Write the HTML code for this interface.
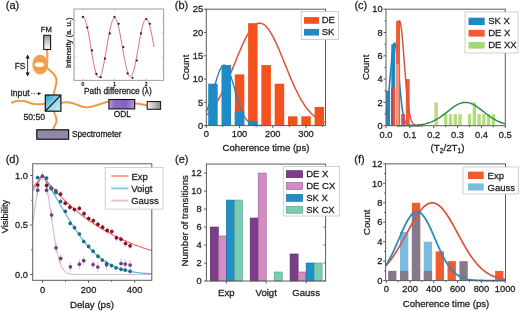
<!DOCTYPE html>
<html><head><meta charset="utf-8"><style>
html,body{margin:0;padding:0;background:#fff;}
svg{display:block;font-family:"Liberation Sans", sans-serif;will-change:transform;}
text{stroke:#1e1e1e;stroke-width:0.28px;}
</style></head><body>
<svg width="520" height="311" viewBox="0 0 520 311">
<rect x="0" y="0" width="520" height="311" fill="#ffffff"/>
<text x="12.5" y="9" font-size="11" text-anchor="middle" fill="#1e1e1e">(a)</text>
<rect x="74" y="9" width="89.7" height="71.3" fill="none" stroke="#858585" stroke-width="0.8"/>
<line x1="83" y1="80.3" x2="83" y2="78.7" stroke="#a0a0a0" stroke-width="0.6"/>
<line x1="83" y1="9" x2="83" y2="10.6" stroke="#a0a0a0" stroke-width="0.6"/>
<line x1="114.6" y1="80.3" x2="114.6" y2="78.7" stroke="#a0a0a0" stroke-width="0.6"/>
<line x1="114.6" y1="9" x2="114.6" y2="10.6" stroke="#a0a0a0" stroke-width="0.6"/>
<line x1="146.2" y1="80.3" x2="146.2" y2="78.7" stroke="#a0a0a0" stroke-width="0.6"/>
<line x1="146.2" y1="9" x2="146.2" y2="10.6" stroke="#a0a0a0" stroke-width="0.6"/>
<line x1="74" y1="20.88" x2="75.5" y2="20.88" stroke="#a0a0a0" stroke-width="0.6"/>
<line x1="163.7" y1="20.88" x2="162.2" y2="20.88" stroke="#a0a0a0" stroke-width="0.6"/>
<line x1="74" y1="32.77" x2="75.5" y2="32.77" stroke="#a0a0a0" stroke-width="0.6"/>
<line x1="163.7" y1="32.77" x2="162.2" y2="32.77" stroke="#a0a0a0" stroke-width="0.6"/>
<line x1="74" y1="44.65" x2="75.5" y2="44.65" stroke="#a0a0a0" stroke-width="0.6"/>
<line x1="163.7" y1="44.65" x2="162.2" y2="44.65" stroke="#a0a0a0" stroke-width="0.6"/>
<line x1="74" y1="56.53" x2="75.5" y2="56.53" stroke="#a0a0a0" stroke-width="0.6"/>
<line x1="163.7" y1="56.53" x2="162.2" y2="56.53" stroke="#a0a0a0" stroke-width="0.6"/>
<line x1="74" y1="68.42" x2="75.5" y2="68.42" stroke="#a0a0a0" stroke-width="0.6"/>
<line x1="163.7" y1="68.42" x2="162.2" y2="68.42" stroke="#a0a0a0" stroke-width="0.6"/>
<text x="83" y="85.6" font-size="5" text-anchor="middle" fill="#1e1e1e">0</text>
<text x="114.6" y="85.6" font-size="5" text-anchor="middle" fill="#1e1e1e">1</text>
<text x="146.2" y="85.6" font-size="5" text-anchor="middle" fill="#1e1e1e">2</text>
<text x="117.9" y="93.9" font-size="8.3" text-anchor="middle" fill="#1e1e1e">Path difference (&#955;)</text>
<text x="70.9" y="42.8" font-size="7.65" text-anchor="middle" fill="#1e1e1e" transform="rotate(-90 70.9 42.8)">Intensity (a. u.)</text>
<path d="M81.5 18.3 L81.8 17.82 L82.1 17.45 L82.41 17.19 L82.71 17.04 L83.01 17 L83.31 17.07 L83.61 17.25 L83.92 17.53 L84.22 17.93 L84.52 18.43 L84.82 19.04 L85.12 19.74 L85.43 20.55 L85.73 21.46 L86.03 22.45 L86.33 23.54 L86.64 24.71 L86.94 25.97 L87.24 27.3 L87.54 28.7 L87.84 30.17 L88.15 31.7 L88.45 33.29 L88.75 34.93 L89.05 36.61 L89.35 38.33 L89.66 40.09 L89.96 41.86 L90.26 43.66 L90.56 45.47 L90.86 47.29 L91.17 49.1 L91.47 50.91 L91.77 52.71 L92.07 54.48 L92.38 56.23 L92.68 57.95 L92.98 59.63 L93.28 61.26 L93.58 62.84 L93.89 64.37 L94.19 65.83 L94.49 67.23 L94.79 68.55 L95.09 69.8 L95.4 70.97 L95.7 72.05 L96 73.04 L96.3 73.94 L96.6 74.75 L96.91 75.45 L97.21 76.06 L97.51 76.56 L97.81 76.95 L98.11 77.24 L98.42 77.42 L98.72 77.5 L99.02 77.46 L99.32 77.32 L99.62 77.07 L99.93 76.72 L100.23 76.25 L100.53 75.69 L100.83 75.02 L101.14 74.26 L101.44 73.4 L101.74 72.44 L102.04 71.4 L102.34 70.27 L102.65 69.06 L102.95 67.77 L103.25 66.41 L103.55 64.99 L103.85 63.5 L104.16 61.95 L104.46 60.36 L104.76 58.71 L105.06 57.03 L105.36 55.32 L105.67 53.58 L105.97 51.81 L106.27 50.04 L106.57 48.25 L106.88 46.47 L107.18 44.68 L107.48 42.91 L107.78 41.16 L108.08 39.43 L108.39 37.73 L108.69 36.07 L108.99 34.45 L109.29 32.88 L109.59 31.36 L109.9 29.9 L110.2 28.51 L110.5 27.18 L110.8 25.93 L111.1 24.76 L111.41 23.67 L111.71 22.67 L112.01 21.75 L112.31 20.93 L112.61 20.21 L112.92 19.59 L113.22 19.06 L113.52 18.64 L113.82 18.33 L114.12 18.12 L114.43 18.01 L114.73 18.01 L115.03 18.12 L115.33 18.34 L115.64 18.66 L115.94 19.08 L116.24 19.6 L116.54 20.23 L116.84 20.95 L117.15 21.77 L117.45 22.68 L117.75 23.68 L118.05 24.77 L118.35 25.93 L118.66 27.17 L118.96 28.49 L119.26 29.87 L119.56 31.32 L119.86 32.82 L120.17 34.38 L120.47 35.98 L120.77 37.62 L121.07 39.3 L121.38 41 L121.68 42.73 L121.98 44.47 L122.28 46.23 L122.58 47.98 L122.89 49.74 L123.19 51.48 L123.49 53.21 L123.79 54.92 L124.09 56.6 L124.4 58.24 L124.7 59.85 L125 61.41 L125.3 62.92 L125.6 64.37 L125.91 65.76 L126.21 67.09 L126.51 68.34 L126.81 69.52 L127.11 70.61 L127.42 71.62 L127.72 72.55 L128.02 73.38 L128.32 74.12 L128.62 74.77 L128.93 75.31 L129.23 75.75 L129.53 76.1 L129.83 76.33 L130.14 76.47 L130.44 76.5 L130.74 76.42 L131.04 76.24 L131.34 75.96 L131.65 75.58 L131.95 75.09 L132.25 74.51 L132.55 73.82 L132.85 73.05 L133.16 72.18 L133.46 71.22 L133.76 70.18 L134.06 69.06 L134.36 67.86 L134.67 66.59 L134.97 65.25 L135.27 63.84 L135.57 62.38 L135.88 60.87 L136.18 59.31 L136.48 57.7 L136.78 56.06 L137.08 54.4 L137.39 52.7 L137.69 51 L137.99 49.27 L138.29 47.55 L138.59 45.82 L138.9 44.1 L139.2 42.4 L139.5 40.71 L139.8 39.05 L140.1 37.43 L140.41 35.84 L140.71 34.29 L141.01 32.79 L141.31 31.34 L141.61 29.96 L141.92 28.64 L142.22 27.38 L142.52 26.21 L142.82 25.1 L143.12 24.08 L143.43 23.15 L143.73 22.3 L144.03 21.55 L144.33 20.89 L144.64 20.32 L144.94 19.85 L145.24 19.49 L145.54 19.22 L145.84 19.06 L146.15 19 L146.45 19.04 L146.75 19.19 L147.05 19.43 L147.35 19.78 L147.66 20.23 L147.96 20.78 L148.26 21.42 L148.56 22.15 L148.86 22.98 L149.17 23.89 L149.47 24.89 L149.77 25.97 L150.07 27.13 L150.38 28.36 L150.68 29.66 L150.98 31.02 L151.28 32.44 L151.58 33.91 L151.89 35.43 L152.19 36.99 L152.49 38.59 L152.79 40.22 L153.09 41.88 L153.4 43.55 L153.7 45.24 L154 46.94" fill="none" stroke="#d65a68" stroke-width="0.9" stroke-linejoin="round"/>
<circle cx="83" cy="17" r="1.15" fill="#3a2a30"/>
<circle cx="87.3" cy="27.6" r="1.15" fill="#3a2a30"/>
<circle cx="92" cy="50.5" r="1.15" fill="#3a2a30"/>
<circle cx="96.4" cy="74" r="1.15" fill="#3a2a30"/>
<circle cx="100.7" cy="77.2" r="1.15" fill="#3a2a30"/>
<circle cx="104.9" cy="58.7" r="1.15" fill="#3a2a30"/>
<circle cx="109.8" cy="33.5" r="1.15" fill="#3a2a30"/>
<circle cx="114.5" cy="17" r="1.15" fill="#3a2a30"/>
<circle cx="118.7" cy="23.8" r="1.15" fill="#3a2a30"/>
<circle cx="123.4" cy="47.1" r="1.15" fill="#3a2a30"/>
<circle cx="127.6" cy="73.5" r="1.15" fill="#3a2a30"/>
<circle cx="132.5" cy="77.8" r="1.15" fill="#3a2a30"/>
<circle cx="136.8" cy="60.6" r="1.15" fill="#3a2a30"/>
<circle cx="141" cy="33.5" r="1.15" fill="#3a2a30"/>
<circle cx="146.3" cy="19.1" r="1.15" fill="#3a2a30"/>
<circle cx="149.9" cy="23.8" r="1.15" fill="#3a2a30"/>
<path d="M47.2 50 C47.4 56 47.6 60 47.2 63" fill="none" stroke="#f29a45" stroke-width="2" stroke-linecap="round"/>
<ellipse cx="40.2" cy="64.6" rx="7.8" ry="9.8" fill="#f29a45"/>
<ellipse cx="40.0" cy="60.2" rx="7.0" ry="4.6" fill="none" stroke="#f7b77a" stroke-width="0.5"/>
<ellipse cx="40.0" cy="62.5" rx="7.0" ry="4.6" fill="none" stroke="#f7b77a" stroke-width="0.5"/>
<ellipse cx="40.0" cy="66.9" rx="7.0" ry="4.6" fill="none" stroke="#f7b77a" stroke-width="0.5"/>
<ellipse cx="40.0" cy="69.2" rx="7.0" ry="4.6" fill="none" stroke="#f7b77a" stroke-width="0.5"/>
<ellipse cx="39.3" cy="64.7" rx="4.5" ry="2.4" fill="#ffffff"/>
<path d="M46.5 67 C50 72 56 73 56.5 80 C57 86 53.5 90 54 95" fill="none" stroke="#f29a45" stroke-width="2" stroke-linecap="round"/>
<path d="M12 102.5 C18 100 24 100.5 30 103 C36 105.5 40 104.5 45.3 103.5" fill="none" stroke="#f29a45" stroke-width="2" stroke-linecap="round"/>
<path d="M61 103 C68 101 74 103 80 106 C88 110 98 104 108.7 101.5" fill="none" stroke="#f29a45" stroke-width="2" stroke-linecap="round"/>
<path d="M134.8 103.5 C139 103 143 105 147 105.5" fill="none" stroke="#f29a45" stroke-width="2" stroke-linecap="round"/>
<path d="M54 111.4 C55 116 58 119 56 123 C54.5 126 53 127 53.5 129.7" fill="none" stroke="#f29a45" stroke-width="2" stroke-linecap="round"/>
<defs><linearGradient id="gFM" x1="0" y1="0" x2="0" y2="1"><stop offset="0" stop-color="#9a9a9a"/><stop offset="0.5" stop-color="#d0d0d0"/><stop offset="1" stop-color="#ffffff"/></linearGradient><linearGradient id="gBS" x1="0" y1="0" x2="1" y2="1"><stop offset="0" stop-color="#2a9cc4"/><stop offset="0.5" stop-color="#8fd2ea"/><stop offset="1" stop-color="#d8f0f8"/></linearGradient><linearGradient id="gODL" x1="0" y1="0" x2="1" y2="0"><stop offset="0" stop-color="#c0a6dc"/><stop offset="0.2" stop-color="#8e6ac8"/><stop offset="0.65" stop-color="#8460c4"/><stop offset="1" stop-color="#b49ad8"/></linearGradient><linearGradient id="gBOX" x1="0" y1="0" x2="1" y2="0"><stop offset="0" stop-color="#f6f4f6"/><stop offset="1" stop-color="#8a8a90"/></linearGradient></defs>
<rect x="43.7" y="35.3" width="6.9" height="14.2" fill="url(#gFM)" stroke="#1a1a1a" stroke-width="1.1"/>
<text x="46.3" y="32.4" font-size="7.6" text-anchor="middle" fill="#1e1e1e">FM</text>
<text x="20" y="68.6" font-size="8.4" text-anchor="middle" fill="#1e1e1e">FS</text>
<line x1="27.6" y1="57.5" x2="27.6" y2="73.5" stroke="#111" stroke-width="0.8"/>
<path d="M27.6 54.6 L25.6 58.6 L29.6 58.6 Z" fill="#111"/>
<path d="M27.6 76.4 L25.6 72.4 L29.6 72.4 Z" fill="#111"/>
<rect x="45.3" y="95" width="15.6" height="16.2" fill="url(#gBS)" stroke="#111" stroke-width="1.2"/>
<line x1="45.6" y1="110.9" x2="60.6" y2="95.3" stroke="#111" stroke-width="1.2"/>
<text x="20" y="96.3" font-size="8.6" text-anchor="middle" fill="#1e1e1e">Input</text>
<line x1="30.8" y1="93.6" x2="38.8" y2="93.6" stroke="#222" stroke-width="0.7" stroke-dasharray="1.6 1.2"/>
<path d="M41.2 93.6 L38.0 92.0 L38.0 95.2 Z" fill="#222"/>
<text x="34.2" y="119.6" font-size="8.6" text-anchor="middle" fill="#1e1e1e">50:50</text>
<rect x="108.9" y="99.5" width="25.8" height="9.4" fill="url(#gODL)" stroke="#111" stroke-width="1.1"/>
<text x="122.3" y="117.4" font-size="8.4" text-anchor="middle" fill="#1e1e1e">ODL</text>
<rect x="147.2" y="101.6" width="13.4" height="7.7" fill="url(#gBOX)" stroke="#111" stroke-width="1"/>
<rect x="36.8" y="129.8" width="31.8" height="9.4" fill="#9088a6" stroke="#111" stroke-width="1.2"/>
<text x="72" y="136.8" font-size="8.25" text-anchor="start" fill="#1e1e1e">Spectrometer</text>
<text x="181.5" y="9.3" font-size="11" text-anchor="middle" fill="#1e1e1e">(b)</text>
<path d="M206.3 115.14 L207.79 113.74 L209.28 112.2 L210.77 110.51 L212.26 108.68 L213.75 106.68 L215.24 104.53 L216.73 102.22 L218.22 99.74 L219.71 97.1 L221.2 94.31 L222.69 91.36 L224.18 88.27 L225.67 85.04 L227.16 81.69 L228.65 78.23 L230.14 74.68 L231.63 71.06 L233.12 67.39 L234.61 63.7 L236.1 60 L237.59 56.32 L239.08 52.7 L240.57 49.17 L242.06 45.74 L243.55 42.46 L245.04 39.35 L246.53 36.44 L248.02 33.76 L249.51 31.33 L251 29.19 L252.49 27.34 L253.98 25.81 L255.47 24.62 L256.96 23.78 L258.45 23.3 L259.94 23.17 L261.43 23.41 L262.92 24.01 L264.41 24.97 L265.9 26.27 L267.39 27.9 L268.88 29.85 L270.37 32.09 L271.86 34.6 L273.35 37.35 L274.84 40.33 L276.33 43.5 L277.82 46.83 L279.31 50.29 L280.8 53.86 L282.29 57.5 L283.78 61.19 L285.27 64.89 L286.76 68.58 L288.25 72.24 L289.74 75.84 L291.23 79.36 L292.72 82.78 L294.21 86.09 L295.7 89.28 L297.19 92.33 L298.68 95.22 L300.17 97.97 L301.66 100.55 L303.15 102.98 L304.64 105.24 L306.13 107.34 L307.62 109.28 L309.11 111.07 L310.6 112.71 L312.09 114.2 L313.58 115.56 L315.07 116.78 L316.56 117.89 L318.05 118.88 L319.54 119.76 L321.03 120.55 L322.52 121.24 L324.01 121.85 L325.5 122.39" fill="none" stroke="#e0503a" stroke-width="1.5" stroke-linejoin="round"/>
<rect x="234.8" y="74.38" width="9.5" height="51.22" fill="#f4511f" stroke="none" stroke-width="0"/>
<rect x="248.1" y="23.17" width="9.5" height="102.43" fill="#f4511f" stroke="none" stroke-width="0"/>
<rect x="261.4" y="65.07" width="9.5" height="60.53" fill="#f4511f" stroke="none" stroke-width="0"/>
<rect x="274.7" y="83.7" width="9.5" height="41.9" fill="#f4511f" stroke="none" stroke-width="0"/>
<rect x="288" y="116.29" width="9.5" height="9.31" fill="#f4511f" stroke="none" stroke-width="0"/>
<rect x="301.3" y="116.29" width="9.5" height="9.31" fill="#f4511f" stroke="none" stroke-width="0"/>
<rect x="314.6" y="106.98" width="9.5" height="18.62" fill="#f4511f" stroke="none" stroke-width="0"/>
<path d="M206.3 111.84 L207 110.19 L207.69 108.43 L208.39 106.54 L209.09 104.55 L209.78 102.45 L210.48 100.25 L211.17 97.98 L211.87 95.63 L212.57 93.22 L213.26 90.78 L213.96 88.33 L214.66 85.88 L215.35 83.45 L216.05 81.08 L216.74 78.79 L217.44 76.6 L218.14 74.53 L218.83 72.62 L219.53 70.88 L220.23 69.34 L220.92 68.01 L221.62 66.91 L222.31 66.06 L223.01 65.47 L223.71 65.14 L224.4 65.08 L225.1 65.3 L225.8 65.78 L226.49 66.52 L227.19 67.52 L227.88 68.75 L228.58 70.21 L229.28 71.87 L229.97 73.71 L230.67 75.72 L231.37 77.86 L232.06 80.11 L232.76 82.45 L233.45 84.86 L234.15 87.3 L234.85 89.76 L235.54 92.21 L236.24 94.63 L236.94 97 L237.63 99.31 L238.33 101.54 L239.02 103.68 L239.72 105.72 L240.42 107.65 L241.11 109.47 L241.81 111.16 L242.5 112.74 L243.2 114.19 L243.9 115.53 L244.59 116.75 L245.29 117.86 L245.99 118.85 L246.68 119.75 L247.38 120.55 L248.07 121.26 L248.77 121.89 L249.47 122.44 L250.16 122.92 L250.86 123.34 L251.56 123.7 L252.25 124.01 L252.95 124.27 L253.65 124.5 L254.34 124.69 L255.04 124.85 L255.73 124.99 L256.43 125.1 L257.13 125.2 L257.82 125.27 L258.52 125.34 L259.21 125.39 L259.91 125.43 L260.61 125.47 L261.3 125.5 L262 125.52" fill="none" stroke="#3a7fa8" stroke-width="1.4" stroke-linejoin="round"/>
<rect x="208.2" y="83.7" width="9.5" height="41.9" fill="#1f8ac6" stroke="none" stroke-width="0"/>
<rect x="221.5" y="65.07" width="9.5" height="60.53" fill="#1f8ac6" stroke="none" stroke-width="0"/>
<rect x="234.8" y="111.63" width="9.5" height="13.97" fill="#1f8ac6" stroke="none" stroke-width="0"/>
<rect x="248.1" y="120.94" width="9.5" height="4.66" fill="#1f8ac6" stroke="none" stroke-width="0"/>
<rect x="206.3" y="9.2" width="119.2" height="116.4" fill="none" stroke="#5c5c5c" stroke-width="1"/>
<line x1="203.8" y1="125.6" x2="206.3" y2="125.6" stroke="#5c5c5c" stroke-width="1"/>
<text x="203.2" y="128.84" font-size="9.3" text-anchor="end" fill="#1e1e1e">0</text>
<line x1="203.8" y1="102.32" x2="206.3" y2="102.32" stroke="#5c5c5c" stroke-width="1"/>
<text x="203.2" y="105.56" font-size="9.3" text-anchor="end" fill="#1e1e1e">5</text>
<line x1="203.8" y1="79.04" x2="206.3" y2="79.04" stroke="#5c5c5c" stroke-width="1"/>
<text x="203.2" y="82.28" font-size="9.3" text-anchor="end" fill="#1e1e1e">10</text>
<line x1="203.8" y1="55.76" x2="206.3" y2="55.76" stroke="#5c5c5c" stroke-width="1"/>
<text x="203.2" y="59" font-size="9.3" text-anchor="end" fill="#1e1e1e">15</text>
<line x1="203.8" y1="32.48" x2="206.3" y2="32.48" stroke="#5c5c5c" stroke-width="1"/>
<text x="203.2" y="35.72" font-size="9.3" text-anchor="end" fill="#1e1e1e">20</text>
<line x1="203.8" y1="9.2" x2="206.3" y2="9.2" stroke="#5c5c5c" stroke-width="1"/>
<text x="203.2" y="12.44" font-size="9.3" text-anchor="end" fill="#1e1e1e">25</text>
<line x1="206.3" y1="125.6" x2="206.3" y2="128.1" stroke="#5c5c5c" stroke-width="1"/>
<text x="206.3" y="137.4" font-size="9.3" text-anchor="middle" fill="#1e1e1e">0</text>
<line x1="239.55" y1="125.6" x2="239.55" y2="128.1" stroke="#5c5c5c" stroke-width="1"/>
<text x="239.55" y="137.4" font-size="9.3" text-anchor="middle" fill="#1e1e1e">100</text>
<line x1="272.8" y1="125.6" x2="272.8" y2="128.1" stroke="#5c5c5c" stroke-width="1"/>
<text x="272.8" y="137.4" font-size="9.3" text-anchor="middle" fill="#1e1e1e">200</text>
<line x1="306.05" y1="125.6" x2="306.05" y2="128.1" stroke="#5c5c5c" stroke-width="1"/>
<text x="306.05" y="137.4" font-size="9.3" text-anchor="middle" fill="#1e1e1e">300</text>
<line x1="222.93" y1="125.6" x2="222.93" y2="127.1" stroke="#5c5c5c" stroke-width="1"/>
<line x1="256.18" y1="125.6" x2="256.18" y2="127.1" stroke="#5c5c5c" stroke-width="1"/>
<line x1="289.43" y1="125.6" x2="289.43" y2="127.1" stroke="#5c5c5c" stroke-width="1"/>
<line x1="322.68" y1="125.6" x2="322.68" y2="127.1" stroke="#5c5c5c" stroke-width="1"/>
<text x="266" y="150.7" font-size="9.6" text-anchor="middle" fill="#1e1e1e">Coherence time (ps)</text>
<text x="189.4" y="67.4" font-size="9.5" text-anchor="middle" fill="#1e1e1e" transform="rotate(-90 189.4 67.4)">Count</text>
<rect x="301.2" y="11.6" width="37.2" height="27.8" fill="#ffffff" stroke="#bcbcbc" stroke-width="0.7"/>
<rect x="304" y="17.1" width="15" height="6.7" fill="#f4511f" stroke="none" stroke-width="0"/>
<rect x="304" y="28.9" width="15" height="6.7" fill="#1f8ac6" stroke="none" stroke-width="0"/>
<text x="321.7" y="23" font-size="9.5" text-anchor="start" fill="#1e1e1e">DE</text>
<text x="321.7" y="34.8" font-size="9.5" text-anchor="start" fill="#1e1e1e">SK</text>
<text x="360.8" y="9.3" font-size="11" text-anchor="middle" fill="#1e1e1e">(c)</text>
<rect x="434.51" y="102.4" width="3.3" height="23.3" fill="#b4dc78" stroke="none" stroke-width="0"/>
<rect x="444.05" y="114.05" width="3.3" height="11.65" fill="#b4dc78" stroke="none" stroke-width="0"/>
<rect x="448.82" y="114.05" width="3.3" height="11.65" fill="#b4dc78" stroke="none" stroke-width="0"/>
<rect x="453.59" y="114.05" width="3.3" height="11.65" fill="#b4dc78" stroke="none" stroke-width="0"/>
<rect x="458.37" y="114.05" width="3.3" height="11.65" fill="#b4dc78" stroke="none" stroke-width="0"/>
<rect x="467.91" y="114.05" width="3.3" height="11.65" fill="#b4dc78" stroke="none" stroke-width="0"/>
<rect x="472.68" y="102.4" width="3.3" height="23.3" fill="#b4dc78" stroke="none" stroke-width="0"/>
<rect x="477.45" y="114.05" width="3.3" height="11.65" fill="#b4dc78" stroke="none" stroke-width="0"/>
<rect x="482.23" y="114.05" width="3.3" height="11.65" fill="#b4dc78" stroke="none" stroke-width="0"/>
<rect x="487" y="114.05" width="3.3" height="11.65" fill="#b4dc78" stroke="none" stroke-width="0"/>
<rect x="491.77" y="114.05" width="3.3" height="11.65" fill="#b4dc78" stroke="none" stroke-width="0"/>
<path d="M386 114.51 L386.43 112.13 L386.85 109.4 L387.27 106.32 L387.7 102.87 L388.12 99.08 L388.55 94.96 L388.98 90.54 L389.4 85.89 L389.82 81.05 L390.25 76.11 L390.68 71.17 L391.1 66.31 L391.52 61.65 L391.95 57.29 L392.38 53.35 L392.8 49.92 L393.23 47.11 L393.65 44.98 L394.07 43.6 L394.5 43.01 L394.93 43.22 L395.35 44.23 L395.77 46.02 L396.2 48.52 L396.62 51.67 L397.05 55.38 L397.48 59.55 L397.9 64.08 L398.32 68.86 L398.75 73.78 L399.18 78.74 L399.6 83.63 L400.02 88.38 L400.45 92.92 L400.88 97.18 L401.3 101.13 L401.73 104.74 L402.15 107.99 L402.57 110.89 L403 113.43 L403.43 115.63 L403.85 117.52 L404.27 119.12 L404.7 120.46 L405.12 121.56 L405.55 122.47 L405.98 123.2 L406.4 123.78 L406.82 124.25 L407.25 124.61 L407.68 124.89 L408.1 125.1 L408.52 125.26 L408.95 125.38 L409.38 125.47 L409.8 125.54 L410.23 125.59 L410.65 125.62 L411.07 125.65 L411.5 125.66 L411.93 125.68 L412.35 125.68 L412.77 125.69 L413.2 125.69 L413.62 125.7 L414.05 125.7 L414.48 125.7 L414.9 125.7 L415.32 125.7 L415.75 125.7 L416.18 125.7 L416.6 125.7 L417.02 125.7 L417.45 125.7 L417.88 125.7 L418.3 125.7 L418.73 125.7 L419.15 125.7 L419.57 125.7 L420 125.7" fill="none" stroke="#1f7fb8" stroke-width="1.6" stroke-linejoin="round"/>
<rect x="386.2" y="90.75" width="3.9" height="34.95" fill="#1f88c4" stroke="none" stroke-width="0"/>
<rect x="391.3" y="44.15" width="3.9" height="81.55" fill="#1f88c4" stroke="none" stroke-width="0"/>
<rect x="391.3" y="87.25" width="3.9" height="38.45" fill="#e2583e" stroke="none" stroke-width="0"/>
<rect x="391.3" y="87.25" width="1.6" height="38.45" fill="#a04858" stroke="none" stroke-width="0"/>
<rect x="396.1" y="20.85" width="3.9" height="104.85" fill="#f25a36" stroke="none" stroke-width="0"/>
<rect x="396.1" y="63.96" width="3.9" height="61.74" fill="#f7957c" stroke="none" stroke-width="0"/>
<rect x="399.1" y="63.96" width="1" height="61.74" fill="#e8553a" stroke="none" stroke-width="0"/>
<rect x="401.2" y="114.05" width="3.7" height="11.65" fill="#c8506a" stroke="none" stroke-width="0"/>
<rect x="405.8" y="79.1" width="3.9" height="46.6" fill="#f25a36" stroke="none" stroke-width="0"/>
<path d="M398.5 22.6 L398.77 21.72 L399.04 21.14 L399.31 20.87 L399.57 20.92 L399.84 21.28 L400.11 21.95 L400.38 22.93 L400.65 24.21 L400.92 25.77 L401.19 27.6 L401.46 29.69 L401.73 32.01 L401.99 34.56 L402.26 37.3 L402.53 40.21 L402.8 43.28 L403.07 46.48 L403.34 49.78 L403.61 53.16 L403.88 56.6 L404.14 60.08 L404.41 63.57 L404.68 67.04 L404.95 70.49 L405.22 73.9 L405.49 77.24 L405.76 80.5 L406.02 83.66 L406.29 86.73 L406.56 89.68 L406.83 92.5 L407.1 95.2 L407.37 97.76 L407.64 100.18 L407.91 102.46 L408.18 104.61 L408.44 106.61 L408.71 108.47 L408.98 110.2 L409.25 111.8 L409.52 113.27 L409.79 114.62 L410.06 115.85 L410.32 116.97 L410.59 117.98 L410.86 118.9 L411.13 119.73 L411.4 120.47 L411.67 121.14 L411.94 121.73 L412.21 122.25 L412.48 122.72 L412.74 123.13 L413.01 123.49 L413.28 123.8 L413.55 124.08 L413.82 124.32 L414.09 124.53 L414.36 124.71 L414.62 124.86 L414.89 124.99 L415.16 125.11 L415.43 125.2 L415.7 125.29 L415.97 125.36 L416.24 125.41 L416.51 125.46 L416.77 125.5 L417.04 125.54 L417.31 125.57 L417.58 125.59 L417.85 125.61 L418.12 125.63 L418.39 125.64 L418.66 125.65 L418.93 125.66 L419.19 125.67 L419.46 125.68 L419.73 125.68 L420 125.68" fill="none" stroke="#d9553e" stroke-width="1.5" stroke-linejoin="round"/>
<path d="M398 125.68 L399.34 125.67 L400.68 125.67 L402.02 125.66 L403.37 125.64 L404.71 125.63 L406.05 125.61 L407.39 125.58 L408.73 125.55 L410.07 125.51 L411.41 125.46 L412.75 125.4 L414.1 125.32 L415.44 125.23 L416.78 125.13 L418.12 125 L419.46 124.85 L420.8 124.67 L422.14 124.46 L423.48 124.22 L424.82 123.94 L426.17 123.62 L427.51 123.25 L428.85 122.84 L430.19 122.37 L431.53 121.85 L432.87 121.28 L434.21 120.64 L435.56 119.95 L436.9 119.2 L438.24 118.39 L439.58 117.53 L440.92 116.62 L442.26 115.67 L443.6 114.67 L444.94 113.65 L446.29 112.6 L447.63 111.55 L448.97 110.49 L450.31 109.45 L451.65 108.43 L452.99 107.45 L454.33 106.52 L455.67 105.66 L457.01 104.88 L458.36 104.18 L459.7 103.59 L461.04 103.11 L462.38 102.75 L463.72 102.51 L465.06 102.41 L466.4 102.43 L467.75 102.58 L469.09 102.86 L470.43 103.27 L471.77 103.79 L473.11 104.41 L474.45 105.14 L475.79 105.95 L477.13 106.84 L478.48 107.78 L479.82 108.78 L481.16 109.81 L482.5 110.86 L483.84 111.92 L485.18 112.97 L486.52 114.01 L487.86 115.02 L489.21 116.01 L490.55 116.95 L491.89 117.84 L493.23 118.68 L494.57 119.47 L495.91 120.2 L497.25 120.87 L498.59 121.48 L499.94 122.04 L501.28 122.54 L502.62 122.99 L503.96 123.38 L505.3 123.73" fill="none" stroke="#2e8a4e" stroke-width="1.5" stroke-linejoin="round"/>
<rect x="386" y="9.2" width="119.3" height="116.5" fill="none" stroke="#5c5c5c" stroke-width="1"/>
<line x1="383.5" y1="125.7" x2="386" y2="125.7" stroke="#5c5c5c" stroke-width="1"/>
<text x="382.6" y="128.94" font-size="9.3" text-anchor="end" fill="#1e1e1e">0</text>
<line x1="383.5" y1="102.4" x2="386" y2="102.4" stroke="#5c5c5c" stroke-width="1"/>
<text x="382.6" y="105.64" font-size="9.3" text-anchor="end" fill="#1e1e1e">2</text>
<line x1="383.5" y1="79.1" x2="386" y2="79.1" stroke="#5c5c5c" stroke-width="1"/>
<text x="382.6" y="82.34" font-size="9.3" text-anchor="end" fill="#1e1e1e">4</text>
<line x1="383.5" y1="55.8" x2="386" y2="55.8" stroke="#5c5c5c" stroke-width="1"/>
<text x="382.6" y="59.04" font-size="9.3" text-anchor="end" fill="#1e1e1e">6</text>
<line x1="383.5" y1="32.5" x2="386" y2="32.5" stroke="#5c5c5c" stroke-width="1"/>
<text x="382.6" y="35.74" font-size="9.3" text-anchor="end" fill="#1e1e1e">8</text>
<line x1="383.5" y1="9.2" x2="386" y2="9.2" stroke="#5c5c5c" stroke-width="1"/>
<text x="382.6" y="12.44" font-size="9.3" text-anchor="end" fill="#1e1e1e">10</text>
<line x1="384.5" y1="114.05" x2="386" y2="114.05" stroke="#5c5c5c" stroke-width="1"/>
<line x1="384.5" y1="90.75" x2="386" y2="90.75" stroke="#5c5c5c" stroke-width="1"/>
<line x1="384.5" y1="67.45" x2="386" y2="67.45" stroke="#5c5c5c" stroke-width="1"/>
<line x1="384.5" y1="44.15" x2="386" y2="44.15" stroke="#5c5c5c" stroke-width="1"/>
<line x1="384.5" y1="20.85" x2="386" y2="20.85" stroke="#5c5c5c" stroke-width="1"/>
<line x1="386" y1="125.7" x2="386" y2="128.2" stroke="#5c5c5c" stroke-width="1"/>
<text x="386" y="137.8" font-size="9.3" text-anchor="middle" fill="#1e1e1e">0.0</text>
<line x1="409.86" y1="125.7" x2="409.86" y2="128.2" stroke="#5c5c5c" stroke-width="1"/>
<text x="409.86" y="137.8" font-size="9.3" text-anchor="middle" fill="#1e1e1e">0.1</text>
<line x1="433.72" y1="125.7" x2="433.72" y2="128.2" stroke="#5c5c5c" stroke-width="1"/>
<text x="433.72" y="137.8" font-size="9.3" text-anchor="middle" fill="#1e1e1e">0.2</text>
<line x1="457.58" y1="125.7" x2="457.58" y2="128.2" stroke="#5c5c5c" stroke-width="1"/>
<text x="457.58" y="137.8" font-size="9.3" text-anchor="middle" fill="#1e1e1e">0.3</text>
<line x1="481.44" y1="125.7" x2="481.44" y2="128.2" stroke="#5c5c5c" stroke-width="1"/>
<text x="481.44" y="137.8" font-size="9.3" text-anchor="middle" fill="#1e1e1e">0.4</text>
<line x1="505.3" y1="125.7" x2="505.3" y2="128.2" stroke="#5c5c5c" stroke-width="1"/>
<text x="505.3" y="137.8" font-size="9.3" text-anchor="middle" fill="#1e1e1e">0.5</text>
<line x1="397.93" y1="125.7" x2="397.93" y2="127.2" stroke="#5c5c5c" stroke-width="1"/>
<line x1="421.79" y1="125.7" x2="421.79" y2="127.2" stroke="#5c5c5c" stroke-width="1"/>
<line x1="445.65" y1="125.7" x2="445.65" y2="127.2" stroke="#5c5c5c" stroke-width="1"/>
<line x1="469.51" y1="125.7" x2="469.51" y2="127.2" stroke="#5c5c5c" stroke-width="1"/>
<line x1="493.37" y1="125.7" x2="493.37" y2="127.2" stroke="#5c5c5c" stroke-width="1"/>
<text x="447.5" y="150.5" font-size="9.8" text-anchor="middle" fill="#1e1e1e">(T<tspan font-size="6.4" dy="2">2</tspan><tspan dy="-2">/2T</tspan><tspan font-size="6.4" dy="2">1</tspan><tspan dy="-2">)</tspan></text>
<text x="369.2" y="67.4" font-size="9.5" text-anchor="middle" fill="#1e1e1e" transform="rotate(-90 369.2 67.4)">Count</text>
<rect x="465" y="12" width="53" height="41" fill="#ffffff" stroke="#bcbcbc" stroke-width="0.7"/>
<rect x="468.5" y="17.7" width="16.2" height="7.3" fill="#1f88c4" stroke="none" stroke-width="0"/>
<rect x="468.5" y="29.9" width="16.2" height="6.7" fill="#f25a36" stroke="none" stroke-width="0"/>
<rect x="468.5" y="42" width="16.2" height="6.6" fill="#a4d874" stroke="none" stroke-width="0"/>
<text x="488.2" y="24.1" font-size="9.5" text-anchor="start" fill="#1e1e1e">SK X</text>
<text x="488.2" y="35.9" font-size="9.5" text-anchor="start" fill="#1e1e1e">DE X</text>
<text x="488.2" y="48" font-size="9.5" text-anchor="start" fill="#1e1e1e">DE XX</text>
<text x="12.4" y="163.1" font-size="11" text-anchor="middle" fill="#1e1e1e">(d)</text>
<path d="M32.7 223.4 L33.3 219.26 L33.89 215.07 L34.49 210.88 L35.08 206.72 L35.68 202.65 L36.27 198.7 L36.87 194.92 L37.46 191.36 L38.06 188.07 L38.66 185.08 L39.25 182.44 L39.85 180.19 L40.44 178.35 L41.04 176.95 L41.63 176.01 L42.23 175.55 L42.82 175.57 L43.42 176.07 L44.01 177.05 L44.61 178.49 L45.21 180.37 L45.8 182.66 L46.4 185.33 L46.99 188.34 L47.59 191.66 L48.18 195.24 L48.78 199.03 L49.37 203 L49.97 207.08 L50.57 211.24 L51.16 215.44 L51.76 219.62 L52.35 223.76 L52.95 227.81 L53.54 231.75 L54.14 235.54 L54.73 239.18 L55.33 242.63 L55.92 245.88 L56.52 248.93 L57.12 251.76 L57.71 254.38 L58.31 256.78 L58.9 258.97 L59.5 260.96 L60.09 262.75 L60.69 264.35 L61.28 265.78 L61.88 267.04 L62.48 268.16 L63.07 269.13 L63.67 269.97 L64.26 270.7 L64.86 271.33 L65.45 271.87 L66.05 272.33 L66.64 272.71 L67.24 273.04 L67.83 273.31 L68.43 273.53 L69.03 273.72 L69.62 273.88 L70.22 274 L70.81 274.1 L71.41 274.19 L72 274.25 L72.6 274.31 L73.19 274.35 L73.79 274.38 L74.39 274.41 L74.98 274.43 L75.58 274.45 L76.17 274.46 L76.77 274.47 L77.36 274.48 L77.96 274.48 L78.55 274.49 L79.15 274.49 L79.74 274.49 L80.34 274.49 L80.94 274.5 L81.53 274.5 L82.13 274.5 L82.72 274.5 L83.32 274.5 L83.91 274.5 L84.51 274.5 L85.1 274.5 L85.7 274.5 L86.3 274.5 L86.89 274.5 L87.49 274.5 L88.08 274.5 L88.68 274.5 L89.27 274.5 L89.87 274.5 L90.46 274.5 L91.06 274.5 L91.65 274.5 L92.25 274.5 L92.85 274.5 L93.44 274.5 L94.04 274.5 L94.63 274.5 L95.23 274.5 L95.82 274.5 L96.42 274.5 L97.01 274.5 L97.61 274.5 L98.2 274.5 L98.8 274.5 L99.4 274.5 L99.99 274.5 L100.59 274.5 L101.18 274.5 L101.78 274.5 L102.37 274.5 L102.97 274.5 L103.56 274.5 L104.16 274.5 L104.76 274.5 L105.35 274.5 L105.95 274.5 L106.54 274.5 L107.14 274.5 L107.73 274.5 L108.33 274.5 L108.92 274.5 L109.52 274.5 L110.12 274.5 L110.71 274.5 L111.31 274.5 L111.9 274.5 L112.5 274.5 L113.09 274.5 L113.69 274.5 L114.28 274.5 L114.88 274.5 L115.47 274.5 L116.07 274.5 L116.67 274.5 L117.26 274.5 L117.86 274.5 L118.45 274.5 L119.05 274.5 L119.64 274.5 L120.24 274.5 L120.83 274.5 L121.43 274.5 L122.03 274.5 L122.62 274.5 L123.22 274.5 L123.81 274.5 L124.41 274.5 L125 274.5 L125.6 274.5 L126.19 274.5 L126.79 274.5 L127.38 274.5 L127.98 274.5 L128.58 274.5 L129.17 274.5 L129.77 274.5 L130.36 274.5 L130.96 274.5 L131.55 274.5 L132.15 274.5 L132.74 274.5 L133.34 274.5 L133.94 274.5 L134.53 274.5 L135.13 274.5 L135.72 274.5 L136.32 274.5 L136.91 274.5 L137.51 274.5 L138.1 274.5 L138.7 274.5 L139.29 274.5 L139.89 274.5 L140.49 274.5 L141.08 274.5 L141.68 274.5 L142.27 274.5 L142.87 274.5 L143.46 274.5 L144.06 274.5 L144.65 274.5 L145.25 274.5 L145.85 274.5 L146.44 274.5 L147.04 274.5 L147.63 274.5 L148.23 274.5 L148.82 274.5 L149.42 274.5 L150.01 274.5 L150.61 274.5 L151.2 274.5 L151.8 274.5" fill="none" stroke="#dcbcd4" stroke-width="1.2" stroke-linejoin="round"/>
<path d="M32.7 191.03 L33.3 190.03 L33.89 189.03 L34.49 188.04 L35.08 187.06 L35.68 186.08 L36.27 185.11 L36.87 184.15 L37.46 183.19 L38.06 182.25 L38.66 181.31 L39.25 180.38 L39.85 179.31 L40.44 177.79 L41.04 176.66 L41.63 175.91 L42.23 175.54 L42.82 175.56 L43.42 175.96 L44.01 176.74 L44.61 177.91 L45.21 179.46 L45.8 180.46 L46.4 181.39 L46.99 182.33 L47.59 183.28 L48.18 184.23 L48.78 185.2 L49.37 186.17 L49.97 187.14 L50.57 188.13 L51.16 189.12 L51.76 190.11 L52.35 191.12 L52.95 192.12 L53.54 193.13 L54.14 194.14 L54.73 195.16 L55.33 196.18 L55.92 197.2 L56.52 198.23 L57.12 199.25 L57.71 200.28 L58.31 201.3 L58.9 202.33 L59.5 203.36 L60.09 204.38 L60.69 205.41 L61.28 206.43 L61.88 207.46 L62.48 208.48 L63.07 209.49 L63.67 210.51 L64.26 211.52 L64.86 212.53 L65.45 213.53 L66.05 214.53 L66.64 215.53 L67.24 216.52 L67.83 217.5 L68.43 218.48 L69.03 219.45 L69.62 220.42 L70.22 221.38 L70.81 222.34 L71.41 223.28 L72 224.23 L72.6 225.16 L73.19 226.08 L73.79 227 L74.39 227.91 L74.98 228.81 L75.58 229.7 L76.17 230.59 L76.77 231.46 L77.36 232.33 L77.96 233.19 L78.55 234.04 L79.15 234.87 L79.74 235.7 L80.34 236.52 L80.94 237.33 L81.53 238.13 L82.13 238.92 L82.72 239.7 L83.32 240.47 L83.91 241.22 L84.51 241.97 L85.1 242.71 L85.7 243.44 L86.3 244.15 L86.89 244.86 L87.49 245.55 L88.08 246.24 L88.68 246.91 L89.27 247.58 L89.87 248.23 L90.46 248.87 L91.06 249.5 L91.65 250.12 L92.25 250.73 L92.85 251.33 L93.44 251.92 L94.04 252.5 L94.63 253.07 L95.23 253.62 L95.82 254.17 L96.42 254.71 L97.01 255.23 L97.61 255.75 L98.2 256.25 L98.8 256.75 L99.4 257.23 L99.99 257.71 L100.59 258.18 L101.18 258.63 L101.78 259.08 L102.37 259.51 L102.97 259.94 L103.56 260.36 L104.16 260.77 L104.76 261.17 L105.35 261.56 L105.95 261.94 L106.54 262.31 L107.14 262.68 L107.73 263.03 L108.33 263.38 L108.92 263.72 L109.52 264.05 L110.12 264.37 L110.71 264.69 L111.31 264.99 L111.9 265.29 L112.5 265.58 L113.09 265.87 L113.69 266.14 L114.28 266.41 L114.88 266.67 L115.47 266.93 L116.07 267.18 L116.67 267.42 L117.26 267.65 L117.86 267.88 L118.45 268.1 L119.05 268.32 L119.64 268.53 L120.24 268.73 L120.83 268.93 L121.43 269.12 L122.03 269.31 L122.62 269.49 L123.22 269.67 L123.81 269.84 L124.41 270 L125 270.16 L125.6 270.32 L126.19 270.47 L126.79 270.62 L127.38 270.76 L127.98 270.9 L128.58 271.03 L129.17 271.16 L129.77 271.28 L130.36 271.4 L130.96 271.52 L131.55 271.63 L132.15 271.74 L132.74 271.85 L133.34 271.95 L133.94 272.05 L134.53 272.14 L135.13 272.23 L135.72 272.32 L136.32 272.41 L136.91 272.49 L137.51 272.57 L138.1 272.65 L138.7 272.72 L139.29 272.79 L139.89 272.86 L140.49 272.93 L141.08 272.99 L141.68 273.05 L142.27 273.11 L142.87 273.17 L143.46 273.23 L144.06 273.28 L144.65 273.33 L145.25 273.38 L145.85 273.43 L146.44 273.47 L147.04 273.52 L147.63 273.56 L148.23 273.6 L148.82 273.64 L149.42 273.68 L150.01 273.71 L150.61 273.75 L151.2 273.78 L151.8 273.81" fill="none" stroke="#5cb6e0" stroke-width="1.2" stroke-linejoin="round"/>
<path d="M32.7 187.38 L33.3 186.7 L33.89 186.01 L34.49 185.32 L35.08 184.63 L35.68 183.93 L36.27 183.22 L36.87 182.51 L37.46 181.79 L38.06 181.07 L38.66 180.34 L39.25 179.61 L39.85 178.87 L40.44 178.12 L41.04 177.37 L41.63 176.61 L42.23 175.85 L42.82 175.92 L43.42 176.68 L44.01 177.44 L44.61 178.19 L45.21 178.93 L45.8 179.67 L46.4 180.4 L46.99 181.13 L47.59 181.85 L48.18 182.57 L48.78 183.28 L49.37 183.99 L49.97 184.69 L50.57 185.38 L51.16 186.07 L51.76 186.76 L52.35 187.43 L52.95 188.11 L53.54 188.78 L54.14 189.44 L54.73 190.1 L55.33 190.75 L55.92 191.4 L56.52 192.04 L57.12 192.68 L57.71 193.31 L58.31 193.94 L58.9 194.56 L59.5 195.18 L60.09 195.79 L60.69 196.4 L61.28 197.01 L61.88 197.61 L62.48 198.2 L63.07 198.79 L63.67 199.38 L64.26 199.96 L64.86 200.53 L65.45 201.11 L66.05 201.67 L66.64 202.24 L67.24 202.8 L67.83 203.35 L68.43 203.9 L69.03 204.45 L69.62 204.99 L70.22 205.53 L70.81 206.06 L71.41 206.59 L72 207.12 L72.6 207.64 L73.19 208.15 L73.79 208.67 L74.39 209.18 L74.98 209.68 L75.58 210.18 L76.17 210.68 L76.77 211.17 L77.36 211.66 L77.96 212.15 L78.55 212.63 L79.15 213.11 L79.74 213.59 L80.34 214.06 L80.94 214.52 L81.53 214.99 L82.13 215.45 L82.72 215.91 L83.32 216.36 L83.91 216.81 L84.51 217.25 L85.1 217.7 L85.7 218.14 L86.3 218.57 L86.89 219.01 L87.49 219.43 L88.08 219.86 L88.68 220.28 L89.27 220.7 L89.87 221.12 L90.46 221.53 L91.06 221.94 L91.65 222.35 L92.25 222.75 L92.85 223.15 L93.44 223.55 L94.04 223.94 L94.63 224.33 L95.23 224.72 L95.82 225.11 L96.42 225.49 L97.01 225.87 L97.61 226.24 L98.2 226.62 L98.8 226.99 L99.4 227.36 L99.99 227.72 L100.59 228.08 L101.18 228.44 L101.78 228.8 L102.37 229.15 L102.97 229.5 L103.56 229.85 L104.16 230.19 L104.76 230.54 L105.35 230.88 L105.95 231.21 L106.54 231.55 L107.14 231.88 L107.73 232.21 L108.33 232.54 L108.92 232.86 L109.52 233.19 L110.12 233.5 L110.71 233.82 L111.31 234.14 L111.9 234.45 L112.5 234.76 L113.09 235.07 L113.69 235.37 L114.28 235.67 L114.88 235.97 L115.47 236.27 L116.07 236.57 L116.67 236.86 L117.26 237.15 L117.86 237.44 L118.45 237.73 L119.05 238.01 L119.64 238.29 L120.24 238.57 L120.83 238.85 L121.43 239.13 L122.03 239.4 L122.62 239.67 L123.22 239.94 L123.81 240.21 L124.41 240.48 L125 240.74 L125.6 241 L126.19 241.26 L126.79 241.52 L127.38 241.77 L127.98 242.02 L128.58 242.28 L129.17 242.52 L129.77 242.77 L130.36 243.02 L130.96 243.26 L131.55 243.5 L132.15 243.74 L132.74 243.98 L133.34 244.22 L133.94 244.45 L134.53 244.68 L135.13 244.91 L135.72 245.14 L136.32 245.37 L136.91 245.59 L137.51 245.82 L138.1 246.04 L138.7 246.26 L139.29 246.48 L139.89 246.7 L140.49 246.91 L141.08 247.12 L141.68 247.34 L142.27 247.55 L142.87 247.75 L143.46 247.96 L144.06 248.17 L144.65 248.37 L145.25 248.57 L145.85 248.77 L146.44 248.97 L147.04 249.17 L147.63 249.37 L148.23 249.56 L148.82 249.75 L149.42 249.94 L150.01 250.13 L150.61 250.32 L151.2 250.51 L151.8 250.69" fill="none" stroke="#e06a60" stroke-width="1.1" stroke-linejoin="round"/>
<line x1="37.7" y1="185.2" x2="37.7" y2="195.2" stroke="#74407c" stroke-width="0.5" opacity="0.6"/>
<line x1="42.4" y1="171.2" x2="42.4" y2="181.2" stroke="#74407c" stroke-width="0.5" opacity="0.6"/>
<line x1="46.6" y1="185.2" x2="46.6" y2="195.2" stroke="#74407c" stroke-width="0.5" opacity="0.6"/>
<line x1="51.6" y1="210" x2="51.6" y2="220" stroke="#74407c" stroke-width="0.5" opacity="0.6"/>
<line x1="56" y1="242.8" x2="56" y2="252.8" stroke="#74407c" stroke-width="0.5" opacity="0.6"/>
<line x1="60.7" y1="253.4" x2="60.7" y2="263.4" stroke="#74407c" stroke-width="0.5" opacity="0.6"/>
<line x1="70.4" y1="261.8" x2="70.4" y2="271.8" stroke="#74407c" stroke-width="0.5" opacity="0.6"/>
<line x1="79.4" y1="259.2" x2="79.4" y2="269.2" stroke="#74407c" stroke-width="0.5" opacity="0.6"/>
<line x1="83.7" y1="255.7" x2="83.7" y2="265.7" stroke="#74407c" stroke-width="0.5" opacity="0.6"/>
<line x1="93.1" y1="259.6" x2="93.1" y2="269.6" stroke="#74407c" stroke-width="0.5" opacity="0.6"/>
<line x1="97.8" y1="262" x2="97.8" y2="272" stroke="#74407c" stroke-width="0.5" opacity="0.6"/>
<line x1="106.6" y1="259.8" x2="106.6" y2="269.8" stroke="#74407c" stroke-width="0.5" opacity="0.6"/>
<line x1="121" y1="258.5" x2="121" y2="268.5" stroke="#74407c" stroke-width="0.5" opacity="0.6"/>
<line x1="125.2" y1="259.1" x2="125.2" y2="269.1" stroke="#74407c" stroke-width="0.5" opacity="0.6"/>
<line x1="130.1" y1="260" x2="130.1" y2="270" stroke="#74407c" stroke-width="0.5" opacity="0.6"/>
<circle cx="37.7" cy="190.2" r="1.85" fill="#74407c"/>
<circle cx="42.4" cy="176.2" r="1.85" fill="#74407c"/>
<circle cx="46.6" cy="190.2" r="1.85" fill="#74407c"/>
<circle cx="51.6" cy="215" r="1.85" fill="#74407c"/>
<circle cx="56" cy="247.8" r="1.85" fill="#74407c"/>
<circle cx="60.7" cy="258.4" r="1.85" fill="#74407c"/>
<circle cx="70.4" cy="266.8" r="1.85" fill="#74407c"/>
<circle cx="79.4" cy="264.2" r="1.85" fill="#74407c"/>
<circle cx="83.7" cy="260.7" r="1.85" fill="#74407c"/>
<circle cx="93.1" cy="264.6" r="1.85" fill="#74407c"/>
<circle cx="97.8" cy="267" r="1.85" fill="#74407c"/>
<circle cx="106.6" cy="264.8" r="1.85" fill="#74407c"/>
<circle cx="121" cy="263.5" r="1.85" fill="#74407c"/>
<circle cx="125.2" cy="264.1" r="1.85" fill="#74407c"/>
<circle cx="130.1" cy="265" r="1.85" fill="#74407c"/>
<line x1="37.7" y1="181.8" x2="37.7" y2="188.2" stroke="#8c1029" stroke-width="0.5" opacity="0.6"/>
<line x1="46.6" y1="182.2" x2="46.6" y2="188.6" stroke="#8c1029" stroke-width="0.5" opacity="0.6"/>
<line x1="51.2" y1="185.3" x2="51.2" y2="191.7" stroke="#8c1029" stroke-width="0.5" opacity="0.6"/>
<line x1="55.9" y1="187.8" x2="55.9" y2="194.2" stroke="#8c1029" stroke-width="0.5" opacity="0.6"/>
<line x1="60.6" y1="190.9" x2="60.6" y2="197.3" stroke="#8c1029" stroke-width="0.5" opacity="0.6"/>
<line x1="65.3" y1="200" x2="65.3" y2="206.4" stroke="#8c1029" stroke-width="0.5" opacity="0.6"/>
<line x1="69.9" y1="204" x2="69.9" y2="210.4" stroke="#8c1029" stroke-width="0.5" opacity="0.6"/>
<line x1="74.5" y1="206.3" x2="74.5" y2="212.7" stroke="#8c1029" stroke-width="0.5" opacity="0.6"/>
<line x1="79.3" y1="205.2" x2="79.3" y2="211.6" stroke="#8c1029" stroke-width="0.5" opacity="0.6"/>
<line x1="84" y1="210.5" x2="84" y2="216.9" stroke="#8c1029" stroke-width="0.5" opacity="0.6"/>
<line x1="88.7" y1="215.3" x2="88.7" y2="221.7" stroke="#8c1029" stroke-width="0.5" opacity="0.6"/>
<line x1="93.3" y1="217.4" x2="93.3" y2="223.8" stroke="#8c1029" stroke-width="0.5" opacity="0.6"/>
<line x1="97.9" y1="221.1" x2="97.9" y2="227.5" stroke="#8c1029" stroke-width="0.5" opacity="0.6"/>
<line x1="102.6" y1="224" x2="102.6" y2="230.4" stroke="#8c1029" stroke-width="0.5" opacity="0.6"/>
<line x1="107.2" y1="227.2" x2="107.2" y2="233.6" stroke="#8c1029" stroke-width="0.5" opacity="0.6"/>
<line x1="111.8" y1="228.3" x2="111.8" y2="234.7" stroke="#8c1029" stroke-width="0.5" opacity="0.6"/>
<line x1="116.4" y1="234.6" x2="116.4" y2="241" stroke="#8c1029" stroke-width="0.5" opacity="0.6"/>
<line x1="121" y1="236" x2="121" y2="242.4" stroke="#8c1029" stroke-width="0.5" opacity="0.6"/>
<line x1="125.5" y1="240.3" x2="125.5" y2="246.7" stroke="#8c1029" stroke-width="0.5" opacity="0.6"/>
<line x1="130.1" y1="242.6" x2="130.1" y2="249" stroke="#8c1029" stroke-width="0.5" opacity="0.6"/>
<circle cx="37.7" cy="185" r="1.85" fill="#8c1029"/>
<circle cx="46.6" cy="185.4" r="1.85" fill="#8c1029"/>
<circle cx="51.2" cy="188.5" r="1.85" fill="#8c1029"/>
<circle cx="55.9" cy="191" r="1.85" fill="#8c1029"/>
<circle cx="60.6" cy="194.1" r="1.85" fill="#8c1029"/>
<circle cx="65.3" cy="203.2" r="1.85" fill="#8c1029"/>
<circle cx="69.9" cy="207.2" r="1.85" fill="#8c1029"/>
<circle cx="74.5" cy="209.5" r="1.85" fill="#8c1029"/>
<circle cx="79.3" cy="208.4" r="1.85" fill="#8c1029"/>
<circle cx="84" cy="213.7" r="1.85" fill="#8c1029"/>
<circle cx="88.7" cy="218.5" r="1.85" fill="#8c1029"/>
<circle cx="93.3" cy="220.6" r="1.85" fill="#8c1029"/>
<circle cx="97.9" cy="224.3" r="1.85" fill="#8c1029"/>
<circle cx="102.6" cy="227.2" r="1.85" fill="#8c1029"/>
<circle cx="107.2" cy="230.4" r="1.85" fill="#8c1029"/>
<circle cx="111.8" cy="231.5" r="1.85" fill="#8c1029"/>
<circle cx="116.4" cy="237.8" r="1.85" fill="#8c1029"/>
<circle cx="121" cy="239.2" r="1.85" fill="#8c1029"/>
<circle cx="125.5" cy="243.5" r="1.85" fill="#8c1029"/>
<circle cx="130.1" cy="245.8" r="1.85" fill="#8c1029"/>
<line x1="37.7" y1="175.3" x2="37.7" y2="179.7" stroke="#1b6f86" stroke-width="0.5" opacity="0.6"/>
<line x1="46.6" y1="175.9" x2="46.6" y2="180.3" stroke="#1b6f86" stroke-width="0.5" opacity="0.6"/>
<line x1="51.4" y1="185.9" x2="51.4" y2="190.3" stroke="#1b6f86" stroke-width="0.5" opacity="0.6"/>
<line x1="56" y1="190.2" x2="56" y2="194.6" stroke="#1b6f86" stroke-width="0.5" opacity="0.6"/>
<line x1="60.6" y1="199.2" x2="60.6" y2="203.6" stroke="#1b6f86" stroke-width="0.5" opacity="0.6"/>
<line x1="65.3" y1="209.1" x2="65.3" y2="213.5" stroke="#1b6f86" stroke-width="0.5" opacity="0.6"/>
<line x1="70.2" y1="221.2" x2="70.2" y2="225.6" stroke="#1b6f86" stroke-width="0.5" opacity="0.6"/>
<line x1="74.5" y1="225.5" x2="74.5" y2="229.9" stroke="#1b6f86" stroke-width="0.5" opacity="0.6"/>
<line x1="79.4" y1="231.8" x2="79.4" y2="236.2" stroke="#1b6f86" stroke-width="0.5" opacity="0.6"/>
<line x1="83.7" y1="239.3" x2="83.7" y2="243.7" stroke="#1b6f86" stroke-width="0.5" opacity="0.6"/>
<line x1="88.6" y1="244.2" x2="88.6" y2="248.6" stroke="#1b6f86" stroke-width="0.5" opacity="0.6"/>
<line x1="93.1" y1="249" x2="93.1" y2="253.4" stroke="#1b6f86" stroke-width="0.5" opacity="0.6"/>
<line x1="98" y1="254.2" x2="98" y2="258.6" stroke="#1b6f86" stroke-width="0.5" opacity="0.6"/>
<line x1="102.3" y1="257.9" x2="102.3" y2="262.3" stroke="#1b6f86" stroke-width="0.5" opacity="0.6"/>
<line x1="106.6" y1="261.3" x2="106.6" y2="265.7" stroke="#1b6f86" stroke-width="0.5" opacity="0.6"/>
<line x1="111.5" y1="263.4" x2="111.5" y2="267.8" stroke="#1b6f86" stroke-width="0.5" opacity="0.6"/>
<line x1="116" y1="265.6" x2="116" y2="270" stroke="#1b6f86" stroke-width="0.5" opacity="0.6"/>
<line x1="121" y1="267.1" x2="121" y2="271.5" stroke="#1b6f86" stroke-width="0.5" opacity="0.6"/>
<line x1="125.2" y1="267.9" x2="125.2" y2="272.3" stroke="#1b6f86" stroke-width="0.5" opacity="0.6"/>
<line x1="130.1" y1="269.1" x2="130.1" y2="273.5" stroke="#1b6f86" stroke-width="0.5" opacity="0.6"/>
<circle cx="37.7" cy="177.5" r="1.85" fill="#1b6f86"/>
<circle cx="46.6" cy="178.1" r="1.85" fill="#1b6f86"/>
<circle cx="51.4" cy="188.1" r="1.85" fill="#1b6f86"/>
<circle cx="56" cy="192.4" r="1.85" fill="#1b6f86"/>
<circle cx="60.6" cy="201.4" r="1.85" fill="#1b6f86"/>
<circle cx="65.3" cy="211.3" r="1.85" fill="#1b6f86"/>
<circle cx="70.2" cy="223.4" r="1.85" fill="#1b6f86"/>
<circle cx="74.5" cy="227.7" r="1.85" fill="#1b6f86"/>
<circle cx="79.4" cy="234" r="1.85" fill="#1b6f86"/>
<circle cx="83.7" cy="241.5" r="1.85" fill="#1b6f86"/>
<circle cx="88.6" cy="246.4" r="1.85" fill="#1b6f86"/>
<circle cx="93.1" cy="251.2" r="1.85" fill="#1b6f86"/>
<circle cx="98" cy="256.4" r="1.85" fill="#1b6f86"/>
<circle cx="102.3" cy="260.1" r="1.85" fill="#1b6f86"/>
<circle cx="106.6" cy="263.5" r="1.85" fill="#1b6f86"/>
<circle cx="111.5" cy="265.6" r="1.85" fill="#1b6f86"/>
<circle cx="116" cy="267.8" r="1.85" fill="#1b6f86"/>
<circle cx="121" cy="269.3" r="1.85" fill="#1b6f86"/>
<circle cx="125.2" cy="270.1" r="1.85" fill="#1b6f86"/>
<circle cx="130.1" cy="271.3" r="1.85" fill="#1b6f86"/>
<rect x="32.7" y="163.8" width="119.1" height="116.5" fill="none" stroke="#5c5c5c" stroke-width="1"/>
<line x1="30.2" y1="274.5" x2="32.7" y2="274.5" stroke="#5c5c5c" stroke-width="1"/>
<text x="28" y="277.74" font-size="9.3" text-anchor="end" fill="#1e1e1e">0.0</text>
<line x1="30.2" y1="225" x2="32.7" y2="225" stroke="#5c5c5c" stroke-width="1"/>
<text x="28" y="228.24" font-size="9.3" text-anchor="end" fill="#1e1e1e">0.5</text>
<line x1="30.2" y1="175.5" x2="32.7" y2="175.5" stroke="#5c5c5c" stroke-width="1"/>
<text x="28" y="178.74" font-size="9.3" text-anchor="end" fill="#1e1e1e">1.0</text>
<line x1="31.2" y1="249.75" x2="32.7" y2="249.75" stroke="#5c5c5c" stroke-width="1"/>
<line x1="31.2" y1="200.25" x2="32.7" y2="200.25" stroke="#5c5c5c" stroke-width="1"/>
<line x1="42.5" y1="280.3" x2="42.5" y2="282.8" stroke="#5c5c5c" stroke-width="1"/>
<text x="42.5" y="292.8" font-size="9.3" text-anchor="middle" fill="#1e1e1e">0</text>
<line x1="88.56" y1="280.3" x2="88.56" y2="282.8" stroke="#5c5c5c" stroke-width="1"/>
<text x="88.56" y="292.8" font-size="9.3" text-anchor="middle" fill="#1e1e1e">200</text>
<line x1="134.62" y1="280.3" x2="134.62" y2="282.8" stroke="#5c5c5c" stroke-width="1"/>
<text x="134.62" y="292.8" font-size="9.3" text-anchor="middle" fill="#1e1e1e">400</text>
<line x1="65.53" y1="280.3" x2="65.53" y2="281.8" stroke="#5c5c5c" stroke-width="1"/>
<line x1="111.59" y1="280.3" x2="111.59" y2="281.8" stroke="#5c5c5c" stroke-width="1"/>
<text x="92" y="308.4" font-size="9.7" text-anchor="middle" fill="#1e1e1e">Delay (ps)</text>
<text x="8.4" y="216.5" font-size="9.3" text-anchor="middle" fill="#1e1e1e" transform="rotate(-90 8.4 216.5)">Visibility</text>
<rect x="105.2" y="167.5" width="57.8" height="41.6" fill="#ffffff" stroke="#bcbcbc" stroke-width="0.7"/>
<line x1="111.2" y1="176" x2="128.5" y2="176" stroke="#f2a088" stroke-width="1.8"/>
<line x1="111.2" y1="188.4" x2="128.5" y2="188.4" stroke="#84c4e8" stroke-width="1.8"/>
<line x1="111.2" y1="200.6" x2="128.5" y2="200.6" stroke="#dcc4d4" stroke-width="1.8"/>
<text x="131.4" y="179.8" font-size="9.5" text-anchor="start" fill="#1e1e1e">Exp</text>
<text x="131.2" y="191.6" font-size="9.5" text-anchor="start" fill="#1e1e1e">Voigt</text>
<text x="131.2" y="204" font-size="9.5" text-anchor="start" fill="#1e1e1e">Gauss</text>
<text x="181.7" y="163.2" font-size="11" text-anchor="middle" fill="#1e1e1e">(e)</text>
<rect x="210.3" y="227.05" width="8" height="53.95" fill="#7d3d8d" stroke="#4a2356" stroke-width="0.6"/>
<rect x="218.3" y="236.04" width="8" height="44.96" fill="#d38cc4" stroke="#8f5a85" stroke-width="0.6"/>
<rect x="226.3" y="200.07" width="8" height="80.93" fill="#1f91c8" stroke="#166a93" stroke-width="0.6"/>
<rect x="234.3" y="200.07" width="8" height="80.93" fill="#79cdb4" stroke="#4f9a85" stroke-width="0.6"/>
<rect x="250.2" y="218.05" width="8" height="62.95" fill="#7d3d8d" stroke="#4a2356" stroke-width="0.6"/>
<rect x="258.2" y="173.09" width="8" height="107.91" fill="#d38cc4" stroke="#8f5a85" stroke-width="0.6"/>
<rect x="274.2" y="272.01" width="8" height="8.99" fill="#79cdb4" stroke="#4f9a85" stroke-width="0.6"/>
<rect x="290.1" y="254.02" width="8" height="26.98" fill="#7d3d8d" stroke="#4a2356" stroke-width="0.6"/>
<rect x="298.1" y="272.01" width="8" height="8.99" fill="#d38cc4" stroke="#8f5a85" stroke-width="0.6"/>
<rect x="306.1" y="263.02" width="8" height="17.98" fill="#1f91c8" stroke="#166a93" stroke-width="0.6"/>
<rect x="314.1" y="263.02" width="8" height="17.98" fill="#79cdb4" stroke="#4f9a85" stroke-width="0.6"/>
<rect x="206.4" y="164.1" width="119.2" height="116.9" fill="none" stroke="#5c5c5c" stroke-width="1"/>
<line x1="203.9" y1="281" x2="206.4" y2="281" stroke="#5c5c5c" stroke-width="1"/>
<line x1="323.6" y1="281" x2="325.6" y2="281" stroke="#5c5c5c" stroke-width="1"/>
<text x="201.6" y="284.24" font-size="9.3" text-anchor="end" fill="#1e1e1e">0</text>
<line x1="203.9" y1="263.02" x2="206.4" y2="263.02" stroke="#5c5c5c" stroke-width="1"/>
<line x1="323.6" y1="263.02" x2="325.6" y2="263.02" stroke="#5c5c5c" stroke-width="1"/>
<text x="201.6" y="266.26" font-size="9.3" text-anchor="end" fill="#1e1e1e">2</text>
<line x1="203.9" y1="245.03" x2="206.4" y2="245.03" stroke="#5c5c5c" stroke-width="1"/>
<line x1="323.6" y1="245.03" x2="325.6" y2="245.03" stroke="#5c5c5c" stroke-width="1"/>
<text x="201.6" y="248.27" font-size="9.3" text-anchor="end" fill="#1e1e1e">4</text>
<line x1="203.9" y1="227.05" x2="206.4" y2="227.05" stroke="#5c5c5c" stroke-width="1"/>
<line x1="323.6" y1="227.05" x2="325.6" y2="227.05" stroke="#5c5c5c" stroke-width="1"/>
<text x="201.6" y="230.29" font-size="9.3" text-anchor="end" fill="#1e1e1e">6</text>
<line x1="203.9" y1="209.06" x2="206.4" y2="209.06" stroke="#5c5c5c" stroke-width="1"/>
<line x1="323.6" y1="209.06" x2="325.6" y2="209.06" stroke="#5c5c5c" stroke-width="1"/>
<text x="201.6" y="212.3" font-size="9.3" text-anchor="end" fill="#1e1e1e">8</text>
<line x1="203.9" y1="191.08" x2="206.4" y2="191.08" stroke="#5c5c5c" stroke-width="1"/>
<line x1="323.6" y1="191.08" x2="325.6" y2="191.08" stroke="#5c5c5c" stroke-width="1"/>
<text x="201.6" y="194.32" font-size="9.3" text-anchor="end" fill="#1e1e1e">10</text>
<line x1="203.9" y1="173.09" x2="206.4" y2="173.09" stroke="#5c5c5c" stroke-width="1"/>
<line x1="323.6" y1="173.09" x2="325.6" y2="173.09" stroke="#5c5c5c" stroke-width="1"/>
<text x="201.6" y="176.33" font-size="9.3" text-anchor="end" fill="#1e1e1e">12</text>
<line x1="226.3" y1="281" x2="226.3" y2="283.5" stroke="#5c5c5c" stroke-width="1"/>
<text x="226.3" y="296.4" font-size="9.6" text-anchor="middle" fill="#1e1e1e">Exp</text>
<line x1="266.2" y1="281" x2="266.2" y2="283.5" stroke="#5c5c5c" stroke-width="1"/>
<text x="266.2" y="296.4" font-size="9.6" text-anchor="middle" fill="#1e1e1e">Voigt</text>
<line x1="306.1" y1="281" x2="306.1" y2="283.5" stroke="#5c5c5c" stroke-width="1"/>
<text x="306.1" y="296.4" font-size="9.6" text-anchor="middle" fill="#1e1e1e">Gauss</text>
<text x="188" y="220.8" font-size="9.6" text-anchor="middle" fill="#1e1e1e" transform="rotate(-90 188 220.8)">Number of transitions</text>
<rect x="283.3" y="166.6" width="56" height="49.4" fill="#ffffff" stroke="#bcbcbc" stroke-width="0.7"/>
<rect x="286.4" y="170.7" width="16.3" height="7" fill="#7d3d8d" stroke="#4a2356" stroke-width="0.6"/>
<text x="306.2" y="177" font-size="9.5" text-anchor="start" fill="#1e1e1e">DE X</text>
<rect x="286.4" y="182.55" width="16.3" height="7" fill="#d38cc4" stroke="#8f5a85" stroke-width="0.6"/>
<text x="306.2" y="188.85" font-size="9.5" text-anchor="start" fill="#1e1e1e">DE CX</text>
<rect x="286.4" y="194.4" width="16.3" height="7" fill="#1f91c8" stroke="#166a93" stroke-width="0.6"/>
<text x="306.2" y="200.7" font-size="9.5" text-anchor="start" fill="#1e1e1e">SK X</text>
<rect x="286.4" y="206.25" width="16.3" height="7" fill="#79cdb4" stroke="#4f9a85" stroke-width="0.6"/>
<text x="306.2" y="212.55" font-size="9.5" text-anchor="start" fill="#1e1e1e">SK CX</text>
<text x="359.5" y="163.4" font-size="11" text-anchor="middle" fill="#1e1e1e">(f)</text>
<rect x="399.99" y="231.98" width="8.3" height="48.62" fill="#7bbbe0" stroke="none" stroke-width="0"/>
<rect x="423.77" y="241.7" width="8.3" height="38.9" fill="#7bbbe0" stroke="none" stroke-width="0"/>
<rect x="411.88" y="202.8" width="8.3" height="77.8" fill="#f25a30" stroke="none" stroke-width="0"/>
<rect x="435.66" y="251.43" width="8.3" height="29.18" fill="#f25a30" stroke="none" stroke-width="0"/>
<rect x="447.55" y="261.15" width="8.3" height="19.45" fill="#f25a30" stroke="none" stroke-width="0"/>
<rect x="495.11" y="270.88" width="8.3" height="9.73" fill="#f25a30" stroke="none" stroke-width="0"/>
<rect x="388.1" y="270.88" width="8.3" height="9.73" fill="#85798a" stroke="none" stroke-width="0"/>
<rect x="399.99" y="270.88" width="8.3" height="9.73" fill="#85798a" stroke="none" stroke-width="0"/>
<rect x="411.88" y="212.53" width="8.3" height="68.07" fill="#85798a" stroke="none" stroke-width="0"/>
<rect x="423.77" y="270.88" width="8.3" height="9.73" fill="#85798a" stroke="none" stroke-width="0"/>
<rect x="459.44" y="261.15" width="8.3" height="19.45" fill="#85798a" stroke="none" stroke-width="0"/>
<path d="M385.6 265.95 L387.1 264.32 L388.6 262.57 L390.1 260.69 L391.6 258.7 L393.09 256.6 L394.59 254.38 L396.09 252.05 L397.59 249.63 L399.09 247.11 L400.59 244.52 L402.09 241.86 L403.59 239.15 L405.08 236.4 L406.58 233.63 L408.08 230.86 L409.58 228.11 L411.08 225.39 L412.58 222.74 L414.08 220.16 L415.58 217.7 L417.07 215.35 L418.57 213.15 L420.07 211.12 L421.57 209.27 L423.07 207.63 L424.57 206.21 L426.07 205.02 L427.56 204.07 L429.06 203.39 L430.56 202.96 L432.06 202.8 L433.56 202.91 L435.06 203.29 L436.56 203.93 L438.06 204.82 L439.56 205.97 L441.05 207.35 L442.55 208.95 L444.05 210.76 L445.55 212.76 L447.05 214.93 L448.55 217.25 L450.05 219.7 L451.55 222.25 L453.04 224.9 L454.54 227.6 L456.04 230.35 L457.54 233.12 L459.04 235.89 L460.54 238.64 L462.04 241.36 L463.54 244.03 L465.03 246.64 L466.53 249.17 L468.03 251.61 L469.53 253.95 L471.03 256.19 L472.53 258.32 L474.03 260.33 L475.52 262.23 L477.02 264 L478.52 265.66 L480.02 267.19 L481.52 268.61 L483.02 269.92 L484.52 271.12 L486.02 272.21 L487.51 273.2 L489.01 274.1 L490.51 274.91 L492.01 275.63 L493.51 276.28 L495.01 276.85 L496.51 277.36 L498.01 277.81 L499.5 278.21 L501 278.56 L502.5 278.86 L504 279.12 L505.5 279.35" fill="none" stroke="#e0503c" stroke-width="1.7" stroke-linejoin="round"/>
<path d="M385.6 265.52 L387.1 263.22 L388.6 260.72 L390.1 258 L391.6 255.1 L393.09 252.02 L394.59 248.78 L396.09 245.43 L397.59 241.99 L399.09 238.51 L400.59 235.04 L402.09 231.61 L403.59 228.3 L405.08 225.14 L406.58 222.2 L408.08 219.53 L409.58 217.18 L411.08 215.19 L412.58 213.61 L414.08 212.46 L415.58 211.77 L417.07 211.55 L418.57 211.82 L420.07 212.55 L421.57 213.74 L423.07 215.37 L424.57 217.39 L426.07 219.78 L427.56 222.48 L429.06 225.44 L430.56 228.62 L432.06 231.95 L433.56 235.38 L435.06 238.86 L436.56 242.34 L438.06 245.77 L439.56 249.11 L441.05 252.33 L442.55 255.39 L444.05 258.28 L445.55 260.97 L447.05 263.46 L448.55 265.74 L450.05 267.8 L451.55 269.65 L453.04 271.3 L454.54 272.76 L456.04 274.03 L457.54 275.13 L459.04 276.08 L460.54 276.9 L462.04 277.58 L463.54 278.16 L465.03 278.64 L466.53 279.03 L468.03 279.36 L469.53 279.62 L471.03 279.84 L472.53 280.01 L474.03 280.14 L475.52 280.25 L477.02 280.33 L478.52 280.4 L480.02 280.45 L481.52 280.49 L483.02 280.52 L484.52 280.54 L486.02 280.56 L487.51 280.57 L489.01 280.58 L490.51 280.58 L492.01 280.59 L493.51 280.59 L495.01 280.59 L496.51 280.6 L498.01 280.6 L499.5 280.6 L501 280.6 L502.5 280.6 L504 280.6 L505.5 280.6" fill="none" stroke="#2a8db2" stroke-width="1.8" stroke-linejoin="round"/>
<rect x="385.6" y="163.9" width="119.9" height="116.7" fill="none" stroke="#5c5c5c" stroke-width="1"/>
<line x1="383.1" y1="280.6" x2="385.6" y2="280.6" stroke="#5c5c5c" stroke-width="1"/>
<text x="382.4" y="283.84" font-size="9.3" text-anchor="end" fill="#1e1e1e">0</text>
<line x1="383.1" y1="261.15" x2="385.6" y2="261.15" stroke="#5c5c5c" stroke-width="1"/>
<text x="382.4" y="264.39" font-size="9.3" text-anchor="end" fill="#1e1e1e">2</text>
<line x1="383.1" y1="241.7" x2="385.6" y2="241.7" stroke="#5c5c5c" stroke-width="1"/>
<text x="382.4" y="244.94" font-size="9.3" text-anchor="end" fill="#1e1e1e">4</text>
<line x1="383.1" y1="222.25" x2="385.6" y2="222.25" stroke="#5c5c5c" stroke-width="1"/>
<text x="382.4" y="225.49" font-size="9.3" text-anchor="end" fill="#1e1e1e">6</text>
<line x1="383.1" y1="202.8" x2="385.6" y2="202.8" stroke="#5c5c5c" stroke-width="1"/>
<text x="382.4" y="206.04" font-size="9.3" text-anchor="end" fill="#1e1e1e">8</text>
<line x1="383.1" y1="183.35" x2="385.6" y2="183.35" stroke="#5c5c5c" stroke-width="1"/>
<text x="382.4" y="186.59" font-size="9.3" text-anchor="end" fill="#1e1e1e">10</text>
<line x1="383.1" y1="163.9" x2="385.6" y2="163.9" stroke="#5c5c5c" stroke-width="1"/>
<text x="382.4" y="167.14" font-size="9.3" text-anchor="end" fill="#1e1e1e">12</text>
<line x1="384.1" y1="270.88" x2="385.6" y2="270.88" stroke="#5c5c5c" stroke-width="1"/>
<line x1="384.1" y1="251.43" x2="385.6" y2="251.43" stroke="#5c5c5c" stroke-width="1"/>
<line x1="384.1" y1="231.98" x2="385.6" y2="231.98" stroke="#5c5c5c" stroke-width="1"/>
<line x1="384.1" y1="212.53" x2="385.6" y2="212.53" stroke="#5c5c5c" stroke-width="1"/>
<line x1="384.1" y1="193.07" x2="385.6" y2="193.07" stroke="#5c5c5c" stroke-width="1"/>
<line x1="384.1" y1="173.62" x2="385.6" y2="173.62" stroke="#5c5c5c" stroke-width="1"/>
<line x1="386.3" y1="280.6" x2="386.3" y2="283.1" stroke="#5c5c5c" stroke-width="1"/>
<text x="386.3" y="291.5" font-size="9.3" text-anchor="middle" fill="#1e1e1e">0</text>
<line x1="410.08" y1="280.6" x2="410.08" y2="283.1" stroke="#5c5c5c" stroke-width="1"/>
<text x="410.08" y="291.5" font-size="9.3" text-anchor="middle" fill="#1e1e1e">200</text>
<line x1="433.86" y1="280.6" x2="433.86" y2="283.1" stroke="#5c5c5c" stroke-width="1"/>
<text x="433.86" y="291.5" font-size="9.3" text-anchor="middle" fill="#1e1e1e">400</text>
<line x1="457.64" y1="280.6" x2="457.64" y2="283.1" stroke="#5c5c5c" stroke-width="1"/>
<text x="457.64" y="291.5" font-size="9.3" text-anchor="middle" fill="#1e1e1e">600</text>
<line x1="481.42" y1="280.6" x2="481.42" y2="283.1" stroke="#5c5c5c" stroke-width="1"/>
<text x="481.42" y="291.5" font-size="9.3" text-anchor="middle" fill="#1e1e1e">800</text>
<line x1="505.2" y1="280.6" x2="505.2" y2="283.1" stroke="#5c5c5c" stroke-width="1"/>
<text x="505.2" y="291.5" font-size="9.3" text-anchor="middle" fill="#1e1e1e">1000</text>
<line x1="398.19" y1="280.6" x2="398.19" y2="282.1" stroke="#5c5c5c" stroke-width="1"/>
<line x1="421.97" y1="280.6" x2="421.97" y2="282.1" stroke="#5c5c5c" stroke-width="1"/>
<line x1="445.75" y1="280.6" x2="445.75" y2="282.1" stroke="#5c5c5c" stroke-width="1"/>
<line x1="469.53" y1="280.6" x2="469.53" y2="282.1" stroke="#5c5c5c" stroke-width="1"/>
<line x1="493.31" y1="280.6" x2="493.31" y2="282.1" stroke="#5c5c5c" stroke-width="1"/>
<text x="446" y="307.2" font-size="9.55" text-anchor="middle" fill="#1e1e1e">Coherence time (ps)</text>
<text x="369.6" y="222.2" font-size="9.5" text-anchor="middle" fill="#1e1e1e" transform="rotate(-90 369.6 222.2)">Count</text>
<rect x="463" y="167" width="55.5" height="27" fill="#ffffff" stroke="#bcbcbc" stroke-width="0.7"/>
<rect x="468" y="171.6" width="15.7" height="7.4" fill="#f25a30" stroke="none" stroke-width="0"/>
<rect x="468" y="183.4" width="15.7" height="7.1" fill="#7bbbe0" stroke="none" stroke-width="0"/>
<text x="487.6" y="178.9" font-size="9.5" text-anchor="start" fill="#1e1e1e">Exp</text>
<text x="487.6" y="190.6" font-size="9.5" text-anchor="start" fill="#1e1e1e">Gauss</text>
</svg>
</body></html>
